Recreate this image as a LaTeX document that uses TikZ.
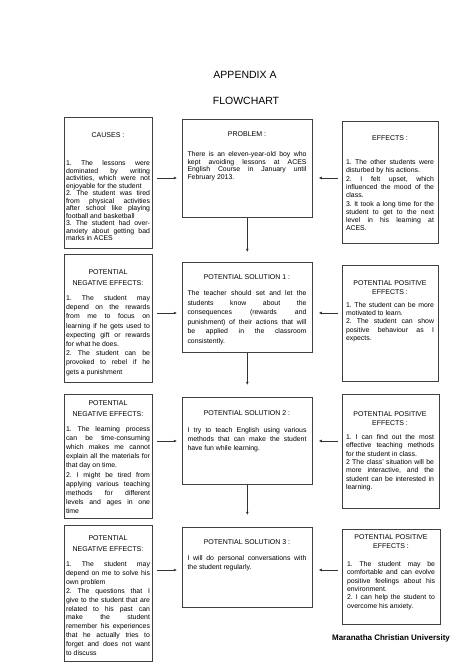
\documentclass[tikz,border=0pt]{standalone}
\usepackage{fontspec}
\setmainfont{Liberation Sans}
\usetikzlibrary{arrows.meta}
\newcommand{\hdtext}[2]{{\centering\fontsize{7}{#1}\selectfont #2\par}}
\newcommand{\bodytext}[2]{{\parindent=0pt\frenchspacing\rightskip=0pt\leftskip=0pt\parfillskip=0pt plus 1fil\fontsize{6.9}{#1}\selectfont #2\par}}
\tikzset{
  box/.style={draw=black!75, line width=0.6pt, rectangle, inner sep=0pt, anchor=north west},
  txt/.style={anchor=north, inner sep=0pt, align=justify, font=\fontsize{7}{8}\selectfont,
    execute at begin node={\parindent=0pt\parskip=0pt\hyphenpenalty=10000\exhyphenpenalty=10000\frenchspacing}},
  arr/.style={draw=black!80, line width=0.6pt, -{Latex[length=3.2pt,width=2.8pt]}},
  lcol/.style={txt, text width=84pt},
  ccol/.style={txt, text width=119pt},
  rcol/.style={txt, text width=88pt},
}
\begin{document}
\begin{tikzpicture}[x=1pt,y=-1pt]
\fill[white] (0,0) rectangle (474,669);
\useasboundingbox (0,0) rectangle (474,669);

% titles
\node[inner sep=0pt] (t1) at (245,75) {\fontsize{10.5}{12}\selectfont APPENDIX A};
\node[inner sep=0pt] (t2) at (246,101) {\fontsize{10.5}{12}\selectfont FLOWCHART};
\node[inner sep=0pt, anchor=base] (foot) at (391,640) {\fontsize{8}{9}\selectfont\bfseries Maranatha Christian University};

% boxes
\node[box, minimum width=88pt, minimum height=131pt] (l1) at (64,117) {};
\node[box, minimum width=88pt, minimum height=128pt] (l2) at (64,254) {};
\node[box, minimum width=88pt, minimum height=124pt] (l3) at (64,394) {};
\node[box, minimum width=88pt, minimum height=136pt] (l4) at (64,525) {};
\node[box, minimum width=130pt, minimum height=98pt] (p) at (182,119) {};
\node[box, minimum width=130pt, minimum height=90pt] (s1) at (182,262) {};
\node[box, minimum width=130pt, minimum height=87pt] (s2) at (182,397) {};
\node[box, minimum width=130pt, minimum height=80pt] (s3) at (182,527) {};
\node[box, minimum width=96pt, minimum height=122pt] (e1) at (342,121) {};
\node[box, minimum width=96pt, minimum height=116pt] (e2) at (342,265) {};
\node[box, minimum width=97pt, minimum height=114pt] (e3) at (342,394) {};
\node[box, minimum width=98pt, minimum height=95pt] (e4) at (342,529) {};

% texts left
\node[lcol] (l1t) at (108,132.5) {\hdtext{9}{CAUSES :}\vspace{20.5pt}\bodytext{7.5}{%
1. The lessons were \linebreak dominated by writing \linebreak activities, which were not \linebreak enjoyable for the student\par
2. The student was tired \linebreak from physical activities \linebreak after school like playing \linebreak football and basketball\par
3. The student had over-\linebreak anxiety about getting bad \linebreak marks in ACES}};
\node[lcol] (l2t) at (108,269.5) {\hdtext{11}{POTENTIAL\\NEGATIVE EFFECTS:}\vspace{5.8pt}\bodytext{9.2}{%
1. The student may \linebreak depend on the rewards \linebreak from me to focus on \linebreak learning if he gets used to \linebreak expecting gift or rewards \linebreak for what he does.\par
2. The student can be \linebreak provoked to rebel if he \linebreak gets a punishment}};
\node[lcol] (l3t) at (108,400.5) {\hdtext{11}{POTENTIAL\\NEGATIVE EFFECTS:}\vspace{5.9pt}\bodytext{9.1}{%
1. The learning process \linebreak can be time-consuming \linebreak which makes me cannot \linebreak explain all the materials for \linebreak that day on time.\par
2. I might be tired from \linebreak applying various teaching \linebreak methods for different \linebreak levels and ages in one \linebreak time}};
\node[lcol] (l4t) at (108,535.5) {\hdtext{11}{POTENTIAL\\NEGATIVE EFFECTS:}\vspace{6.1pt}\bodytext{8.9}{%
1. The student may \linebreak depend on me to solve his \linebreak own problem\par
2. The questions that I \linebreak give to the student that are \linebreak related to his past can \linebreak make the student \linebreak remember his experiences \linebreak that he actually tries to \linebreak forget and does not want \linebreak to discuss}};

% texts center
\node[ccol] (pt) at (247,131.5) {\hdtext{9}{PROBLEM :}\vspace{12.5pt}\bodytext{7.5}{%
There is an eleven-year-old boy who \linebreak kept avoiding lessons at ACES \linebreak English Course in January until \linebreak February 2013.}};
\node[ccol] (s1t) at (247,274.5) {\hdtext{9}{POTENTIAL SOLUTION 1 :}\vspace{6.5pt}\bodytext{9.5}{%
The teacher should set and let the \linebreak students know about the \linebreak consequences (rewards and \linebreak punishment) of their actions that will \linebreak be applied in the classroom \linebreak consistently.}};
\node[ccol] (s2t) at (247,410.5) {\hdtext{9}{POTENTIAL SOLUTION 2 :}\vspace{8pt}\bodytext{9}{%
I try to teach English using various \linebreak methods that can make the student \linebreak have fun while learning.}};
\node[ccol] (s3t) at (247,539.5) {\hdtext{9}{POTENTIAL SOLUTION 3 :}\vspace{6.7pt}\bodytext{9.3}{%
I will do personal conversations with \linebreak the student regularly.}};

% texts right
\node[rcol] (e1t) at (390,135.5) {\hdtext{9}{EFFECTS :}\vspace{15.7pt}\bodytext{8.3}{%
1. The other students were \linebreak disturbed by his actions.\par
2. I felt upset, which \linebreak influenced the mood of the \linebreak class.\par
3. It took a long time for the \linebreak student to get to the next \linebreak level in his learning at \linebreak ACES.}};
\node[rcol] (e2t) at (390,280.5) {\hdtext{9}{POTENTIAL POSITIVE\\EFFECTS :}\vspace{4.8pt}\bodytext{8.2}{%
1. The student can be more \linebreak motivated to learn.\par
2. The student can show \linebreak positive behaviour as I \linebreak expects.}};
\node[rcol] (e3t) at (390,411.5) {\hdtext{9}{POTENTIAL POSITIVE\\EFFECTS :}\vspace{5.7pt}\bodytext{8.3}{%
1. I can find out the most \linebreak effective teaching methods \linebreak for the student in class.\par
2 The class' situation will be \linebreak more interactive, and the \linebreak student can be interested in \linebreak learning.}};
\node[rcol] (e4t) at (391,534.5) {\hdtext{9}{POTENTIAL POSITIVE\\EFFECTS :}\vspace{9.7pt}\bodytext{8.3}{%
1. The student may be \linebreak comfortable and can evolve \linebreak positive feelings about his \linebreak environment.\par
2. I can help the student to \linebreak overcome his anxiety.}};

% arrow rows
\coordinate (r1) at (0,178);
\coordinate (r2) at (0,313);
\coordinate (r3) at (0,441);
\coordinate (r4) at (0,570);

\draw[arr, shorten <=4pt, shorten >=5pt] (l1.east |- r1) -- (p.west |- r1);
\draw[arr, shorten <=4pt, shorten >=6pt] (e1.west |- r1) -- (p.east |- r1);
\draw[arr, shorten <=4pt, shorten >=5pt] (l2.east |- r2) -- (s1.west |- r2);
\draw[arr, shorten <=4pt, shorten >=6pt] (e2.west |- r2) -- (s1.east |- r2);
\draw[arr, shorten <=4pt, shorten >=5pt] (l3.east |- r3) -- (s2.west |- r3);
\draw[arr, shorten <=4pt, shorten >=6pt] (e3.west |- r3) -- (s2.east |- r3);
\draw[arr, shorten <=4pt, shorten >=5pt] (l4.east |- r4) -- (s3.west |- r4);
\draw[arr, shorten <=4pt, shorten >=6pt] (e4.west |- r4) -- (s3.east |- r4);

\draw[arr, shorten >=10pt] (p.south) -- (s1.north);
\draw[arr, shorten >=12pt] (s1.south) -- (s2.north);
\draw[arr, shorten >=12pt] (s2.south) -- (s3.north);
\end{tikzpicture}
\end{document}
